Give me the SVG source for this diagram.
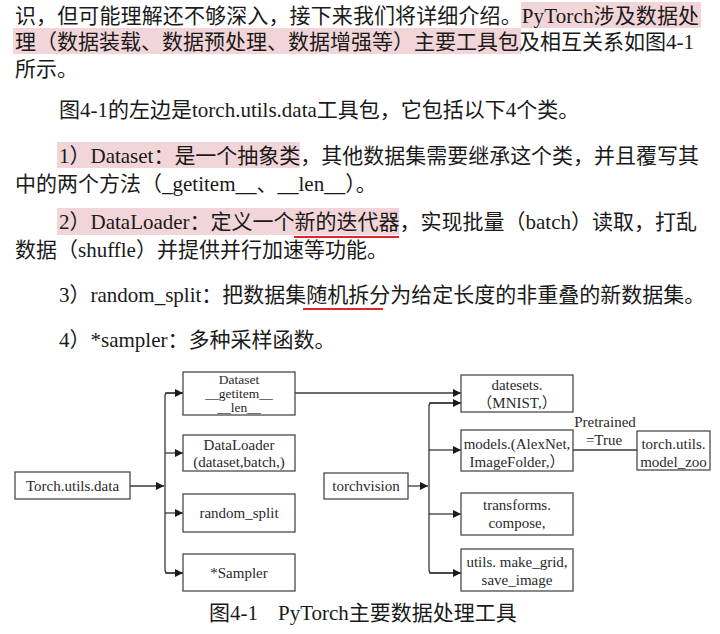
<svg xmlns="http://www.w3.org/2000/svg" width="720" height="634" viewBox="0 0 720 634">
<style>
.body{font-family:"Liberation Serif","Noto Sans CJK SC",serif;font-size:21px;fill:#1a1a1a}
.hl{fill:#f2d5d8}
.ul{stroke:#e0262a;stroke-width:2}
.box{fill:#fff;stroke:#4a4a4a;stroke-width:1.3}
.lbl{font-family:"Liberation Serif","Noto Sans CJK SC",serif;font-size:15px;fill:#2a2a2a;text-anchor:middle}
.sm{font-size:13.5px}
.ln{fill:none;stroke:#3a3a3a;stroke-width:1.3}
.cap{font-family:"Liberation Serif","Noto Sans CJK SC",serif;font-size:21px;fill:#1a1a1a}
</style>
<defs>
<marker id="ah" viewBox="0 0 10 10" refX="10" refY="5" markerWidth="8" markerHeight="8" markerUnits="userSpaceOnUse" orient="auto">
<path d="M0,0 L10,5 L0,10 z" fill="#1a1a1a"/>
</marker>
</defs>
<rect width="720" height="634" fill="#fff"/>

<g id="text-body">
<rect class="hl" x="521" y="2" width="180" height="26"/>
<rect class="hl" x="13" y="28" width="508" height="26"/>
<rect class="hl" x="57" y="142" width="243" height="26"/>
<rect class="hl" x="57" y="208" width="342" height="27"/>
<line class="ul" x1="294" y1="237" x2="399" y2="237"/>
<line class="ul" x1="303" y1="309" x2="383" y2="309"/>
<text class="body" x="15" y="23" textLength="684" lengthAdjust="spacing">识，但可能理解还不够深入，接下来我们将详细介绍。PyTorch涉及数据处</text>
<text class="body" x="15" y="49" textLength="679" lengthAdjust="spacing">理（数据装载、数据预处理、数据增强等）主要工具包及相互关系如图4-1</text>
<text class="body" x="15" y="76">所示。</text>
<text class="body" x="59" y="117">图4-1的左边是torch.utils.data工具包，它包括以下4个类。</text>
<text class="body" x="59" y="163" textLength="640" lengthAdjust="spacing">1）Dataset：是一个抽象类，其他数据集需要继承这个类，并且覆写其</text>
<text class="body" x="15" y="191">中的两个方法（_getitem__、__len__）。</text>
<text class="body" x="59" y="229" textLength="638" lengthAdjust="spacing">2）DataLoader：定义一个新的迭代器，实现批量（batch）读取，打乱</text>
<text class="body" x="15" y="257">数据（shuffle）并提供并行加速等功能。</text>
<text class="body" x="59" y="302">3）random_split：把数据集随机拆分为给定长度的非重叠的新数据集。</text>
<text class="body" x="59" y="347">4）*sampler：多种采样函数。</text>
</g>

<g id="connectors">
<line class="ln" x1="130" y1="486" x2="164" y2="486" marker-end="url(#ah)"/>
<path class="ln" d="M183,393 H168 Q165,393 165,396 V570 Q165,573 168,573 H183"/>
<line class="ln" x1="165" y1="393" x2="183" y2="393" marker-end="url(#ah)"/>
<line class="ln" x1="165" y1="453" x2="183" y2="453" marker-end="url(#ah)"/>
<line class="ln" x1="165" y1="513" x2="183" y2="513" marker-end="url(#ah)"/>
<line class="ln" x1="165" y1="573" x2="183" y2="573" marker-end="url(#ah)"/>
<line class="ln" x1="295" y1="393" x2="461" y2="393" marker-end="url(#ah)"/>
<line class="ln" x1="408" y1="486" x2="428" y2="486" marker-end="url(#ah)"/>
<path class="ln" d="M461,403 H432 Q429,403 429,406 V570 Q429,573 432,573 H461"/>
<line class="ln" x1="429" y1="403" x2="461" y2="403" marker-end="url(#ah)"/>
<line class="ln" x1="429" y1="450" x2="461" y2="450" marker-end="url(#ah)"/>
<line class="ln" x1="429" y1="514" x2="461" y2="514" marker-end="url(#ah)"/>
<line class="ln" x1="429" y1="573" x2="461" y2="573" marker-end="url(#ah)"/>
<line class="ln" x1="573" y1="450" x2="637" y2="450"/>
<text class="lbl" x="605" y="427">Pretrained</text>
<text class="lbl" x="604" y="445">=True</text>
</g>

<g id="node-torch-utils-data">
<rect class="box" x="15" y="472" width="115" height="27"/>
<text class="lbl" x="72.5" y="491">Torch.utils.data</text>
</g>
<g id="node-dataset">
<rect class="box" x="183" y="372" width="112" height="43"/>
<text class="lbl sm" x="239" y="384">Dataset</text>
<text class="lbl sm" x="239" y="398">__getitem__</text>
<text class="lbl sm" x="239" y="412">__len__</text>
</g>
<g id="node-dataloader">
<rect class="box" x="183" y="435" width="112" height="36"/>
<text class="lbl" x="239" y="450">DataLoader</text>
<text class="lbl" x="239" y="467">(dataset,batch,)</text>
</g>
<g id="node-random-split">
<rect class="box" x="183" y="494" width="112" height="38"/>
<text class="lbl" x="239" y="518">random_split</text>
</g>
<g id="node-sampler">
<rect class="box" x="183" y="554" width="112" height="37"/>
<text class="lbl" x="239" y="578">*Sampler</text>
</g>
<g id="node-torchvision">
<rect class="box" x="324" y="473" width="84" height="26"/>
<text class="lbl" x="366" y="491">torchvision</text>
</g>
<g id="node-datasets">
<rect class="box" x="461" y="375" width="112" height="37"/>
<text class="lbl" x="517" y="390">datesets.</text>
<text class="lbl" x="517" y="408">（MNIST,）</text>
</g>
<g id="node-models">
<rect class="box" x="461" y="430" width="112" height="41"/>
<text class="lbl" x="517" y="449">models.(AlexNet,</text>
<text class="lbl" x="517" y="467">ImageFolder,）</text>
</g>
<g id="node-model-zoo">
<rect class="box" x="637" y="431" width="73" height="39"/>
<text class="lbl" x="673.5" y="449">torch.utils.</text>
<text class="lbl" x="673.5" y="467">model_zoo</text>
</g>
<g id="node-transforms">
<rect class="box" x="461" y="493" width="112" height="42"/>
<text class="lbl" x="517" y="510">transforms.</text>
<text class="lbl" x="517" y="528">compose,</text>
</g>
<g id="node-utils">
<rect class="box" x="461" y="549" width="112" height="42"/>
<text class="lbl" x="517" y="567">utils. make_grid,</text>
<text class="lbl" x="517" y="585">save_image</text>
</g>

<g id="caption">
<text class="cap" x="209" y="620">图4-1</text>
<text class="cap" x="278" y="620">PyTorch主要数据处理工具</text>
</g>
</svg>
